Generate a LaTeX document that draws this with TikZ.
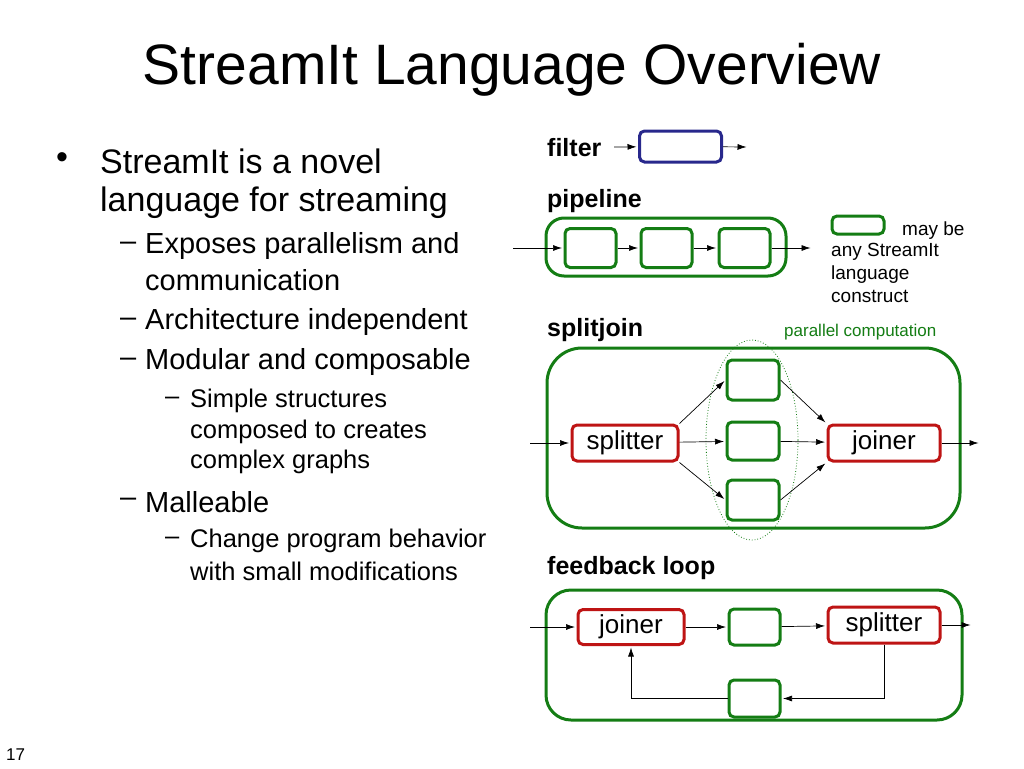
\documentclass[tikz,border=0pt]{standalone}
\usepackage{fontspec}
\setmainfont{Liberation Sans}
\usetikzlibrary{arrows.meta,shapes.geometric}
\definecolor{gr}{RGB}{20,125,20}
\definecolor{rd}{RGB}{190,20,20}
\definecolor{bl}{RGB}{40,40,140}
\begin{document}
\begin{tikzpicture}[x=1pt,y=-1pt,
  box/.style={draw=gr,line width=3pt,rounded corners=5pt,inner sep=0pt},
  rbox/.style={draw=rd,line width=3pt,rounded corners=5pt,inner sep=0pt,font=\fontsize{26}{28}\selectfont},
  outer/.style={draw=gr,line width=3pt,rounded corners=22pt},
  arr/.style={-{Latex[length=9pt,width=6pt]},line width=0.7pt,shorten >=1.5pt},
  lbl/.style={anchor=west,font=\bfseries\fontsize{25}{27}\selectfont,inner sep=0pt},
  t1/.style={anchor=west,font=\fontsize{34}{36}\selectfont,inner sep=0pt},
  t2/.style={anchor=west,font=\fontsize{29}{31}\selectfont,inner sep=0pt},
  t3/.style={anchor=west,font=\fontsize{25.5}{27}\selectfont,inner sep=0pt}]
\useasboundingbox[fill=white] (0,0) rectangle (1024,768);
\node[font=\fontsize{57}{60}\selectfont] (title) at (512,70) {StreamIt Language Overview};
\node[t1] (b1) at (56,161) {•};
\node[t1] (l1) at (100,161) {StreamIt is a novel};
\node[t1] (l2) at (100,203) {language for streaming};
\node[t2] (d1) at (120,246) {–};
\node[t2] (l3) at (145,246) {Exposes parallelism and};
\node[t2] (l4) at (145,280) {communication};
\node[t2] (d2) at (120,322) {–};
\node[t2] (l5) at (145,322) {Architecture independent};
\node[t2] (d3) at (120,362) {–};
\node[t2] (l6) at (145,362) {Modular and composable};
\node[t3] (d4) at (165,401) {–};
\node[t3] (l7) at (190,401) {Simple structures};
\node[t3] (l8) at (190,432) {composed to creates};
\node[t3] (l9) at (190,462) {complex graphs};
\node[t2] (d5) at (120,502) {–};
\node[t2] (l10) at (145,502) {Malleable};
\node[t3] (d6) at (165,541) {–};
\node[t3] (l11) at (190,541) {Change program behavior};
\node[t3] (l12) at (190,571) {with small modifications};
\node[anchor=west,font=\fontsize{17}{18}\selectfont,inner sep=0pt] (pg) at (6,755) {17};
% filter
\node[lbl] (fl) at (547,148) {filter};
\node[draw=bl,line width=3pt,rounded corners=5pt,minimum width=82pt,minimum height=31pt] (f) at (680.5,146.5) {};
\coordinate (fi) at (614,147); \coordinate (fo) at (748,147);
\draw[arr] (fi) -- (f); \draw[arr] (f) -- (fo);
% pipeline
\node[lbl] (pl) at (547,201) {pipeline};
\node[outer,minimum width=240pt,minimum height=58pt,rounded corners=18pt] (po) at (666,247) {};
\node[box,minimum width=51pt,minimum height=39pt] (p1) at (590.5,248) {};
\node[box,minimum width=51pt,minimum height=39pt] (p2) at (666.5,248) {};
\node[box,minimum width=51pt,minimum height=39pt] (p3) at (744.5,248) {};
\coordinate (pi) at (513,248); \coordinate (pout) at (812,248);
\draw[arr] (pi) -- (p1); \draw[arr] (p1) -- (p2); \draw[arr] (p2) -- (p3); \draw[arr] (p3.east) -- (pout);
\node[box,minimum width=52pt,minimum height=18pt] (leg) at (858,225) {};
\node[anchor=west,font=\fontsize{19}{21}\selectfont,inner sep=0pt] (lt1) at (902,231) {may be};
\node[anchor=north west,align=left,font=\fontsize{19}{23}\selectfont,inner sep=0pt] (lt2) at (831,243) {any StreamIt\\language\\construct};
% splitjoin
\node[lbl] (sl) at (547,330) {splitjoin};
\node[anchor=west,text=gr,font=\fontsize{17}{19}\selectfont,inner sep=0pt] (pc) at (784,332) {parallel computation};
\node[outer,minimum width=413pt,minimum height=180pt,rounded corners=35pt] (so) at (753.5,438) {};
\node[draw=gr,dotted,ellipse,minimum width=92pt,minimum height=200pt,line width=0.8pt] (el) at (752,440) {};
\node[rbox,minimum width=106pt,minimum height=36pt] (sp) at (625,443) {splitter};
\node[rbox,minimum width=112pt,minimum height=36pt] (jo) at (884,443) {joiner};
\node[box,minimum width=52pt,minimum height=40pt] (s1) at (753,380) {};
\node[box,minimum width=52pt,minimum height=38pt] (s2) at (753,441) {};
\node[box,minimum width=52pt,minimum height=40pt] (s3) at (753,500) {};
\coordinate (si) at (530,443); \coordinate (so2) at (980,443);
\draw[arr] (si) -- (sp);
\draw[arr] (sp.north east) -- (s1.west); \draw[arr] (sp) -- (s2); \draw[arr] (sp.south east) -- (s3.west);
\draw[arr] (s1.east) -- (jo.north west); \draw[arr] (s2) -- (jo); \draw[arr] (s3.east) -- (jo.south west);
\draw[arr] (jo) -- (so2);
% feedback
\node[lbl] (fbl) at (547,568) {feedback loop};
\node[outer,minimum width=416pt,minimum height=130pt,rounded corners=25pt] (fo2) at (754,655) {};
\node[rbox,minimum width=106pt,minimum height=35pt] (fj) at (631,627) {joiner};
\node[box,minimum width=51pt,minimum height=36pt] (fb1) at (754.5,627) {};
\node[rbox,minimum width=112pt,minimum height=36pt] (fs) at (884,625) {splitter};
\node[box,minimum width=51pt,minimum height=37pt] (fb2) at (754.5,698.5) {};
\coordinate (fin) at (530,627); \coordinate (fout) at (972,625);
\draw[arr] (fin) -- (fj); \draw[arr] (fj) -- (fb1); \draw[arr] (fb1) -- (fs); \draw[arr] (fs) -- (fout);
\draw[arr] (fs.south) |- (fb2.east);
\draw[arr] (fb2.west) -| (fj.south);
\end{tikzpicture}
\end{document}
